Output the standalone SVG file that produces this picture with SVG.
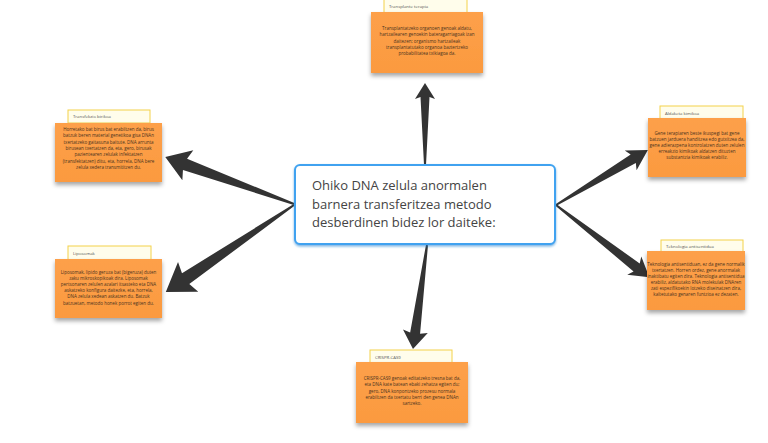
<svg xmlns="http://www.w3.org/2000/svg" width="768" height="443" viewBox="0 0 768 443">
<defs>
<filter id="sh" x="-20%" y="-20%" width="140%" height="150%">
<feDropShadow dx="0" dy="3" stdDeviation="2" flood-color="#000" flood-opacity="0.35"/>
</filter>
<filter id="shc" x="-10%" y="-10%" width="120%" height="130%">
<feDropShadow dx="0" dy="1.5" stdDeviation="1" flood-color="#1f7fd0" flood-opacity="0.6"/>
</filter>
<linearGradient id="og" x1="0" y1="0" x2="0" y2="1">
<stop offset="0" stop-color="#FDA04A"/>
<stop offset="1" stop-color="#FB9A3F"/>
</linearGradient>
</defs>
<style>
.tab{fill:#FFFDEB;stroke:#F3D24A;stroke-width:1}
.body{fill:url(#og);filter:url(#sh)}
.tt{font-family:"Open Sans","Liberation Sans",sans-serif;font-size:4.3px;fill:#555}
.bt{font-family:"Open Sans","Liberation Sans",sans-serif;font-size:4.5px;fill:#4a3320;text-anchor:middle}
.ct{font-family:"Open Sans","Liberation Sans",sans-serif;font-size:13px;fill:#444}
.arr{fill:#333}
</style>
<rect width="768" height="443" fill="#fff"/>

<g id="connectors">
<g transform="translate(425,165) rotate(-90)"><polygon class="arr" points="0,-1 68,-4.5 66,-10 82,0 66,10 68,4.5 0,1"/></g>
<g transform="translate(427,245) rotate(97.67)"><polygon class="arr" points="0,-1 89,-5 87,-12.5 105,0 87,12.5 89,5 0,1"/></g>
<g transform="translate(294,204) rotate(-159.98)"><polygon class="arr" points="0,-1 116,-6 113,-16 137,0 113,16 116,6 0,1"/></g>
<g transform="translate(294,205) rotate(145.8)"><polygon class="arr" points="0,-1 131,-6.5 128,-18 155,0 128,18 131,6.5 0,1"/></g>
<g transform="translate(556,205) rotate(-30.87)"><polygon class="arr" points="0,-1 90,-5 87,-11.5 107,0 87,11.5 90,5 0,1"/></g>
<g transform="translate(556,205) rotate(37.75)"><polygon class="arr" points="0,-1 102,-5 99,-11.5 118,0 99,11.5 102,5 0,1"/></g>
</g>

<g id="center">
<rect x="295" y="165" width="260" height="79" rx="5" fill="#fff" stroke="#3FA2F0" stroke-width="2" filter="url(#shc)"/>
<text class="ct" x="312" y="190">Ohiko DNA zelula anormalen</text>
<text class="ct" x="312" y="208.5">barnera transferitzea metodo</text>
<text class="ct" x="312" y="227">desberdinen bidez lor daiteke:</text>
</g>

<g id="note-transplante">
<rect class="tab" x="384" y="-1" width="83" height="16"/>
<text class="tt" x="389" y="8">Transplante terapia</text>
<rect class="body" x="371" y="12" width="112" height="61"/>
<text class="bt" x="427" y="30"><tspan x="427">Transplantatzeko organoen genoak aldatu,</tspan><tspan x="427" dy="6.3">hartzailearen genoekin bateragarriagoak izan</tspan><tspan x="427" dy="6.3">daitezen; organismo hartzaileak</tspan><tspan x="427" dy="6.3">transplantatutako organoa baztertzeko</tspan><tspan x="427" dy="6.3">probabilitatea txikiagoa da.</tspan></text>
</g>

<g id="note-transfekzio">
<rect class="tab" x="68" y="110" width="82" height="13"/>
<text class="tt" x="73" y="118">Transfekzio birikoa</text>
<rect class="body" x="55" y="123" width="107" height="59"/>
<text class="bt" x="108.5" y="131"><tspan x="108.5">Horretako bat birus bat erabiltzen da, birus</tspan><tspan x="108.5" dy="6.3">batzuk beren material genetikoa gisa DNAn</tspan><tspan x="108.5" dy="6.3">txertatzeko gaitasuna baitute. DNA arrunta</tspan><tspan x="108.5" dy="6.3">birusean txertatzen da, eta, gero, birusak</tspan><tspan x="108.5" dy="6.3">pazientearen zelulak infektatzen</tspan><tspan x="108.5" dy="6.3">(transfektatzen) ditu, eta, horrela, DNA bere</tspan><tspan x="108.5" dy="6.3">zelula xedera transmititzen du.</tspan></text>
</g>

<g id="note-aldaketa">
<rect class="tab" x="660" y="106" width="83" height="15"/>
<text class="tt" x="665" y="114.5">Aldaketa kimikoa</text>
<rect class="body" x="648" y="118" width="98" height="59"/>
<text class="bt" x="697" y="135"><tspan x="697">Gene terapiaren beste ikuspegi bat gene</tspan><tspan x="697" dy="6.1">batzuen jarduera handitzea edo gutxitzea da,</tspan><tspan x="697" dy="6.1">gene adierazpena kontrolatzen duten zelulen</tspan><tspan x="697" dy="6.1">erreakzio kimikoak aldatzen dituzten</tspan><tspan x="697" dy="6.1">substantzia kimikoak erabiliz.</tspan></text>
</g>

<g id="note-liposomak">
<rect class="tab" x="68" y="246" width="83" height="15"/>
<text class="tt" x="73" y="254.5">Liposomak</text>
<rect class="body" x="55" y="259" width="107" height="59"/>
<text class="bt" x="108.5" y="273.5"><tspan x="108.5">Liposomak, lipido geruza bat (bigeruza) duten</tspan><tspan x="108.5" dy="6.2">zaku mikroskopikoak dira. Liposomak</tspan><tspan x="108.5" dy="6.2">pertsonaren zelulen azalari itsasteko eta DNA</tspan><tspan x="108.5" dy="6.2">askatzeko konfigura daitezke, eta, horrela,</tspan><tspan x="108.5" dy="6.2">DNA zelula xedean askatzen du. Batzuk</tspan><tspan x="108.5" dy="6.2">batzuetan, metodo honek porrot egiten du.</tspan></text>
</g>

<g id="note-antisentidua">
<rect class="tab" x="661" y="240" width="82" height="14"/>
<text class="tt" x="666" y="248">Teknologia antisentidua</text>
<rect class="body" x="647" y="251" width="98" height="59"/>
<text class="bt" x="696" y="265.5"><tspan x="696">Teknologia antisentiduan, ez da gene normalik</tspan><tspan x="696" dy="6.1">txertatzen. Horren ordez, gene anormalak</tspan><tspan x="696" dy="6.1">inaktibatu egiten dira. Teknologia antisentidua</tspan><tspan x="696" dy="6.1">erabiliz, aldatutako RNA molekulak DNAren</tspan><tspan x="696" dy="6.1">zati espezifikoekin lotzeko diseinatzen dira,</tspan><tspan x="696" dy="6.1">kaltetutako genaren funtzioa ez dezaten.</tspan></text>
</g>

<g id="note-crispr">
<rect class="tab" x="370" y="350" width="82" height="14"/>
<text class="tt" x="375" y="358.5">CRISPR-CAS9</text>
<rect class="body" x="356" y="362" width="112" height="61"/>
<text class="bt" x="412" y="380"><tspan x="412">CRISPR-CAS9 genoak editatzeko tresna bat da,</tspan><tspan x="412" dy="6.3">eta DNA kate batean ebaki zehatza egiten du;</tspan><tspan x="412" dy="6.3">gero, DNA konpontzeko prozesu normala</tspan><tspan x="412" dy="6.3">erabiltzen da txertatu berri den genea DNAn</tspan><tspan x="412" dy="6.3">sartzeko.</tspan></text>
</g>
</svg>
